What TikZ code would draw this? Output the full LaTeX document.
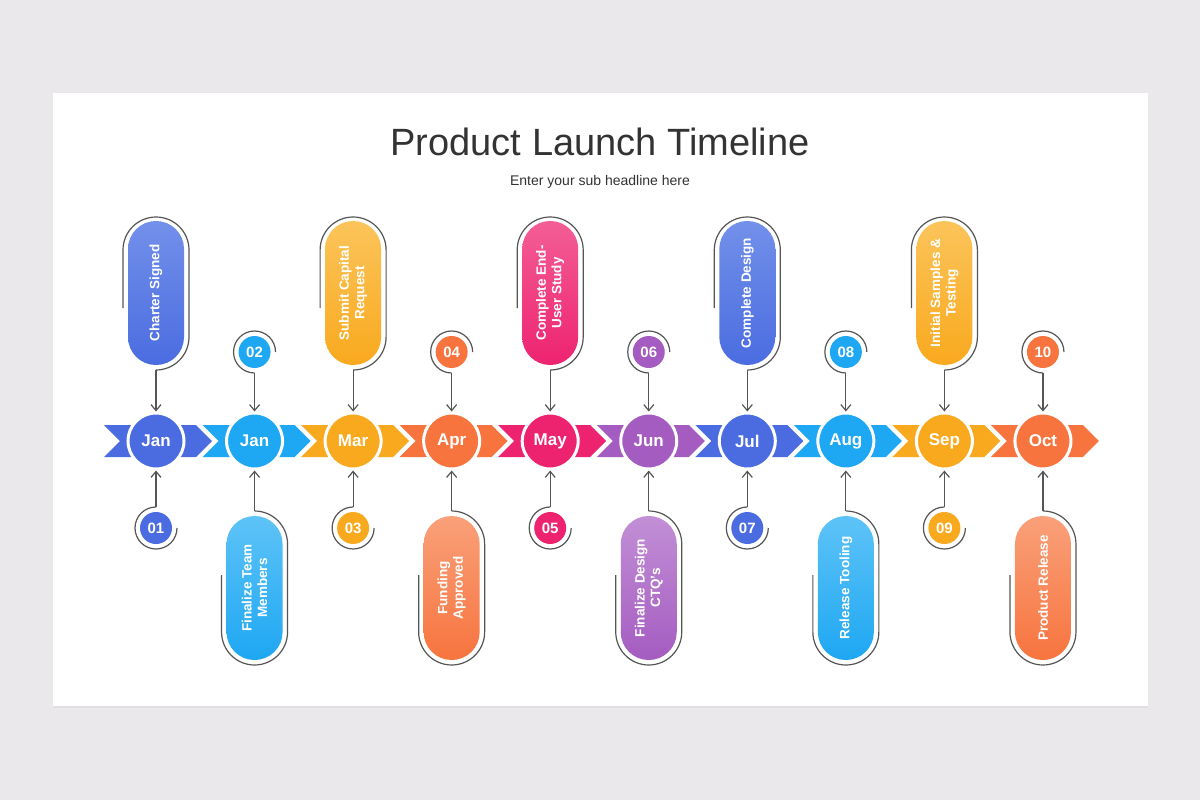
\documentclass[tikz,border=0pt]{standalone}
\usepackage{fontspec}
\setmainfont{Liberation Sans}
\usetikzlibrary{arrows.meta,shadows}
\definecolor{bgc}{HTML}{EAE8EA}
\definecolor{cA}{HTML}{4A6CE0}\definecolor{cAl}{HTML}{7390EA}
\definecolor{cB}{HTML}{1EA7F2}\definecolor{cBl}{HTML}{5EC3F7}
\definecolor{cC}{HTML}{F9A91E}\definecolor{cCl}{HTML}{FBC45A}
\definecolor{cD}{HTML}{F7743E}\definecolor{cDl}{HTML}{F9A07A}
\definecolor{cE}{HTML}{EE2370}\definecolor{cEl}{HTML}{F35E95}
\definecolor{cF}{HTML}{A45CC0}\definecolor{cFl}{HTML}{C28FD6}
\definecolor{linec}{HTML}{555555}
\begin{document}
\begin{tikzpicture}[x=1pt,y=-1pt,
  outl/.style={draw=linec,line width=1.2pt},
  arr/.style={outl,-{Straight Barb[length=6pt,width=10pt]}},
  month/.style={circle,minimum size=56pt,inner sep=0pt,draw=white,line width=3pt,text=white,font=\fontsize{17}{17}\selectfont\bfseries},
  num/.style={circle,minimum size=32pt,inner sep=0pt,text=white,font=\fontsize{15}{15}\selectfont\bfseries},
  pill/.style={rounded corners=27.9pt,minimum width=56pt,minimum height=144pt,inner sep=0pt},
  ptext/.style={rotate=90,text=white,align=center,font=\fontsize{13.5}{15.5}\selectfont\bfseries}]
\useasboundingbox (0,0) rectangle (1200,800);
\fill[bgc] (0,0) rectangle (1200,800);
\fill[white,drop shadow={opacity=0.08,shadow xshift=0pt,shadow yshift=-2pt}] (53,93) rectangle (1148,706);
\node[font=\fontsize{38}{40}\selectfont,text=black!80] (title) at (600,142) {Product Launch Timeline};
\node[font=\fontsize{14}{16}\selectfont,text=black!80] (sub) at (600,182) {Enter your sub headline here};
\foreach \i/\c/\m/\t in {1/cA/Jan/Charter Signed,2/cB/Jan/Finalize Team\\Members,3/cC/Mar/Submit Capital\\Request,4/cD/Apr/Funding\\Approved,5/cE/May/Complete End-\\User Study,6/cF/Jun/Finalize Design\\CTQ's,7/cA/Jul/Complete Design,8/cB/Aug/Release Tooling,9/cC/Sep/Initial Samples \&\\Testing,10/cD/Oct/Product Release}{
  \pgfmathsetmacro\x{156+98.55*(\i-1)}
  \fill[\c] (\x-52,425) -- (\x+40,425) -- (\x+56,441) -- (\x+40,457) -- (\x-52,457) -- (\x-36,441) -- cycle;
  \node[month,fill=\c] (m\i) at (\x,441) {\m};
  \pgfmathtruncatemacro\pr{mod(\i,2)}
  \ifnum\pr=1
    \node[pill,top color=\c l,bottom color=\c] (c\i) at (\x,293) {};
    \node[ptext] (t\i) at (c\i) {\t};
    \draw[outl] (\x-33,308) -- (\x-33,250) arc[start angle=180,end angle=360,radius=33] -- (\x+33,337) arc[start angle=0,end angle=90,radius=33] coordinate (s\i);
    \draw[arr] (s\i) -- (m\i.north);
    \node[num,fill=\c] (n\i) at (\x,528) {0\i};
    \draw[outl] (\x,507) arc[start angle=-90,end angle=-360,radius=21];
    \draw[arr] (\x,507) -- (m\i.south);
  \else
    \node[num,fill=\c] (n\i) at (\x,352) {\ifnum\i<10 0\fi\i};
    \draw[outl] (\x+21,352) arc[start angle=0,end angle=-270,radius=21];
    \draw[arr] (\x,373) -- (m\i.north);
    \node[pill,top color=\c l,bottom color=\c] (c\i) at (\x,588) {};
    \node[ptext] (t\i) at (c\i) {\t};
    \draw[outl] (\x,511) arc[start angle=-90,end angle=0,radius=33] -- (\x+33,632) arc[start angle=0,end angle=180,radius=33] -- (\x-33,575);
    \draw[arr] (\x,511) -- (m\i.south);
  \fi
}
\end{tikzpicture}
\end{document}
